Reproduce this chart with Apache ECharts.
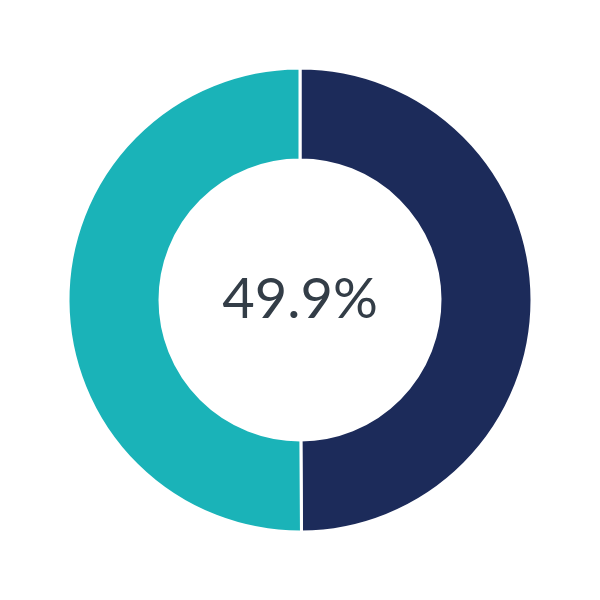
<!DOCTYPE html>
<html><head><meta charset="utf-8">
<script src="https://cdn.jsdelivr.net/npm/echarts@6/dist/echarts.min.js"></script>
<style>html,body{margin:0;padding:0;background:#fff}#c{width:600px;height:600px}</style>
</head><body><div id="c"></div>
<script>
const categories = ['Share', 'Rest'];
const values = [49.9, 50.1];
const colors = ['#1c2b5a', '#1ab3b8'];
const centerLabel = '49.9%';

const chart = echarts.init(document.getElementById('c'));
chart.setOption({
  animation: false,
  series: [{
    type: 'pie',
    center: ['50%', '50%'],
    radius: [140, 232],
    startAngle: 90,
    clockwise: true,
    label: { show: false },
    labelLine: { show: false },
    emphasis: { disabled: true },
    itemStyle: { borderColor: '#fff', borderWidth: 3 },
    data: categories.map((n, i) => ({ name: n, value: values[i], itemStyle: { color: colors[i] } }))
  }],
  graphic: [{
    type: 'text',
    left: 'center',
    top: 'middle',
    style: { text: centerLabel, fontFamily: 'Lato', fontWeight: 400, fontSize: 56, fill: '#333d47' }
  }]
});
</script></body></html>
